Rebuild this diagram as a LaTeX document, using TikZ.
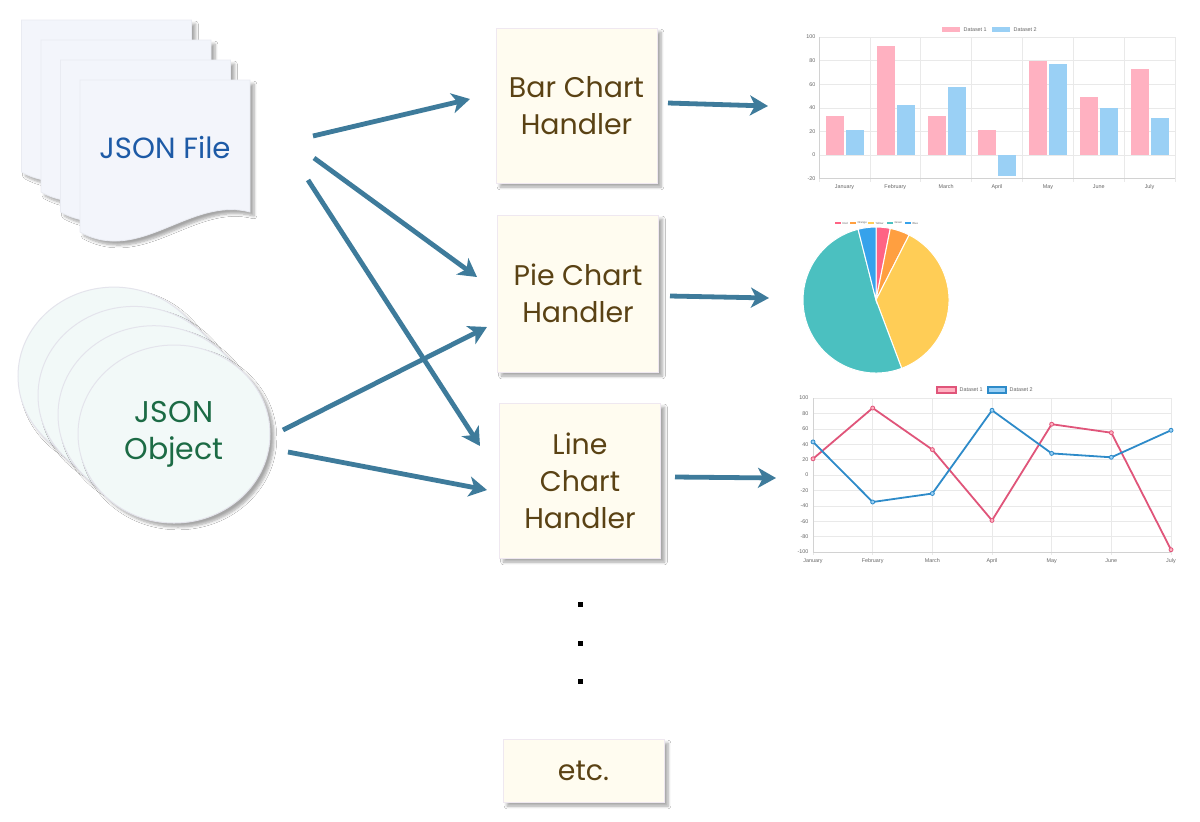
\documentclass[tikz,border=0pt]{standalone}
\usepackage{fontspec}
\setmainfont{Poppins}
\newfontfamily\chartfont{Liberation Sans}
\usepackage{xcolor}
\usetikzlibrary{arrows.meta,shadows.blur}
\definecolor{flowblue}{HTML}{3E7B9B}
\definecolor{boxfill}{HTML}{FFFCF0}
\definecolor{boxedge}{HTML}{EFE8F0}
\definecolor{boxtext}{HTML}{5A4214}
\definecolor{pagefill}{HTML}{F3F5FB}
\definecolor{pageedge}{HTML}{E9EBF2}
\definecolor{objfill}{HTML}{F2F9F8}
\definecolor{objedge}{HTML}{E4E4EC}
\definecolor{filetext}{HTML}{1D5AA6}
\definecolor{objtext}{HTML}{1C6B45}
\definecolor{ds1}{HTML}{FFB1C1}
\definecolor{ds2}{HTML}{9AD0F5}
\definecolor{ds1line}{HTML}{E0557A}
\definecolor{ds2line}{HTML}{2E8BC9}
\definecolor{chartgrid}{HTML}{E9E9E9}
\definecolor{chartaxis}{HTML}{D2D2D2}
\definecolor{charttext}{HTML}{666666}
\definecolor{pred}{HTML}{FF6384}
\definecolor{porange}{HTML}{FF9F40}
\definecolor{pyellow}{HTML}{FFCD56}
\definecolor{pteal}{HTML}{4BC0C0}
\definecolor{pblue}{HTML}{36A2EB}

\tikzset{
  softshadow/.style={blur shadow={shadow xshift=2pt,shadow yshift=-2pt,
    shadow blur radius=1.4pt,shadow blur steps=6,shadow opacity=35}},
  handler/.style={draw=boxedge,fill=boxfill,line width=0.4pt,softshadow,
    minimum width=80.5pt,minimum height=77.5pt,align=center,text=boxtext,
    font=\fontsize{14.2}{18.5}\selectfont},
  page/.style={draw=pageedge,fill=pagefill,line width=0.4pt,softshadow},
  objdisc/.style={draw=objedge,fill=objfill,line width=0.5pt,softshadow},
  flow/.style={draw=flowblue,line width=2.4pt,
    -{Stealth[length=9pt,width=10pt,inset=2.5pt]}},
  ticklabel/.style={font=\chartfont\fontsize{2.7}{3}\selectfont,
    text=charttext,inner sep=0.6pt},
  pielabel/.style={font=\chartfont\fontsize{1.4}{1.6}\selectfont,
    text=charttext,inner sep=0.3pt,anchor=west},
}

\begin{document}
\begin{tikzpicture}[x=0.5pt,y=-0.5pt]
  \useasboundingbox (0,0) rectangle (1200,821);
  \fill[white] (0,0) rectangle (1200,821);

  % json file stack
  \foreach \k in {3,2,1,0} {
    \path[page,shift={(-19.5*\k,-20*\k)}]
      (80,80) -- (250,80) -- (250,212)
      .. controls (190,196) and (140,265) .. (80,232) -- cycle;
  }
  \node[font=\fontsize{14.6}{18}\selectfont,text=filetext] (file) at (165,148)
    {JSON File};

  % json object stack
  \foreach \k in {3,2,1,0}
    \path[objdisc] (174-20*\k,434-19.3*\k) ellipse[x radius=96,y radius=89];
  \node[align=center,font=\fontsize{15}{18.5}\selectfont,text=objtext] (obj)
    at (174,434) {JSON\\Object};

  % handlers
  \node[handler] (bar) at (576.5,105.5) {Bar Chart\\Handler};
  \node[handler,minimum height=78.5pt] (pie) at (578,293.5) {Pie Chart\\Handler};
  \node[handler] (line) at (580,480.5) {Line\\Chart\\Handler};
  \node[handler,minimum height=31.5pt] (etc) at (583.5,770.5) {etc.};

  \foreach \y in {604,643,681}
    \fill (577.5,\y-2.5) rectangle ++(5,5);

  % arrow ends
  \coordinate (f1) at (313,136);  \coordinate (barin) at (470,99);
  \coordinate (f2) at (314,158);  \coordinate (piein) at (477,277);
  \coordinate (f3) at (308,180);  \coordinate (linein) at (480,446);
  \coordinate (o1) at (283,430);  \coordinate (piein2) at (487,327);
  \coordinate (o2) at (288,452);  \coordinate (linein2) at (487,490);
  \coordinate (barout) at (668,103);  \coordinate (barchart) at (768,106);
  \coordinate (pieout) at (670,296);  \coordinate (piechart) at (769,298);
  \coordinate (lineout) at (675,477); \coordinate (linechart) at (776,478);

  \draw[flow] (f1) -- (barin);
  \draw[flow] (f2) -- (piein);
  \draw[flow] (f3) -- (linein);
  \draw[flow] (o1) -- (piein2);
  \draw[flow] (o2) -- (linein2);
  \draw[flow] (barout) -- (barchart);
  \draw[flow] (pieout) -- (piechart);
  \draw[flow] (lineout) -- (linechart);

  % bar chart
  \foreach \v in {100,80,...,-20} {
    \draw[chartgrid,line width=0.3pt] (819,155-1.18*\v) -- (1175,155-1.18*\v);
    \node[ticklabel,anchor=east] at (817,155-1.18*\v) {\v};
  }
  \foreach \k in {0,...,7}
    \draw[chartgrid,line width=0.3pt] (819+50.857*\k,37) -- (819+50.857*\k,182);
  \draw[chartaxis,line width=0.3pt] (819,37) -- (819,178) -- (1175,178);
  \foreach \a/\b [count=\i from 0] in {33/21,92/42,33/58,21/-18,80/77,49/40,73/31} {
    \fill[ds1] (825.9+50.857*\i,155) rectangle (843.9+50.857*\i,155-1.18*\a);
    \fill[ds2] (845.9+50.857*\i,155) rectangle (863.9+50.857*\i,155-1.18*\b);
  }
  \foreach \m [count=\i from 0] in {January,February,March,April,May,June,July}
    \node[ticklabel] at (844.43+50.857*\i,187) {\m};
  \fill[ds1] (942,27) rectangle (960,32);
  \node[ticklabel,anchor=west] at (962,29.5) {Dataset 1};
  \fill[ds2] (992,27) rectangle (1010,32);
  \node[ticklabel,anchor=west] at (1012,29.5) {Dataset 2};

  % pie chart
  \foreach \a/\b/\c in {-90/-78.7/pred,-78.7/-63/porange,-63/69.4/pyellow,
      69.4/255.8/pteal,255.8/270/pblue}
    \filldraw[fill=\c,draw=white,line width=0.5pt]
      (876,300) -- ++(\a:73) arc[start angle=\a,end angle=\b,radius=73] -- cycle;
  \foreach \x/\c/\t in {835/pred/Red,850/porange/Orange,868/pyellow/Yellow,
      887/pteal/Green,905/pblue/Blue} {
    \fill[\c] (\x,222) rectangle ++(6,2);
    \node[pielabel] at (\x+6.5,223) {\t};
  }

  % line chart
  \foreach \v in {100,80,...,-100} {
    \draw[chartgrid,line width=0.3pt] (813,475-0.77*\v) -- (1171,475-0.77*\v);
    \node[ticklabel,anchor=east] at (810,475-0.77*\v) {\v};
  }
  \foreach \k in {0,...,6}
    \draw[chartgrid,line width=0.3pt] (813+59.667*\k,398) -- (813+59.667*\k,555);
  \draw[chartaxis,line width=0.3pt] (813,398) -- (813,552) -- (1171,552);
  \foreach \m [count=\i from 0] in {January,February,March,April,May,June,July}
    \node[ticklabel] at (813+59.667*\i,561) {\m};
  \draw[ds1line,line width=0.9pt,line join=round]
    plot coordinates {(813,458.8) (872.67,408.0) (932.33,449.6) (992,520.4)
      (1051.67,424.2) (1111.33,432.7) (1171,549.7)};
  \draw[ds2line,line width=0.9pt,line join=round]
    plot coordinates {(813,441.9) (872.67,502.0) (932.33,493.5) (992,410.3)
      (1051.67,453.4) (1111.33,457.3) (1171,430.3)};
  \foreach \x/\y in {813/458.8,872.67/408.0,932.33/449.6,992/520.4,
      1051.67/424.2,1111.33/432.7,1171/549.7}
    \filldraw[draw=ds1line,fill=ds1,line width=0.4pt] (\x,\y) circle[radius=2];
  \foreach \x/\y in {813/441.9,872.67/502.0,932.33/493.5,992/410.3,
      1051.67/453.4,1111.33/457.3,1171/430.3}
    \filldraw[draw=ds2line,fill=ds2,line width=0.4pt] (\x,\y) circle[radius=2];
  \filldraw[draw=ds1line,fill=ds1,line width=0.6pt] (937,387) rectangle (956,393);
  \node[ticklabel,anchor=west] at (958,390) {Dataset 1};
  \filldraw[draw=ds2line,fill=ds2,line width=0.6pt] (988,387) rectangle (1006,393);
  \node[ticklabel,anchor=west] at (1008,390) {Dataset 2};
\end{tikzpicture}
\end{document}
